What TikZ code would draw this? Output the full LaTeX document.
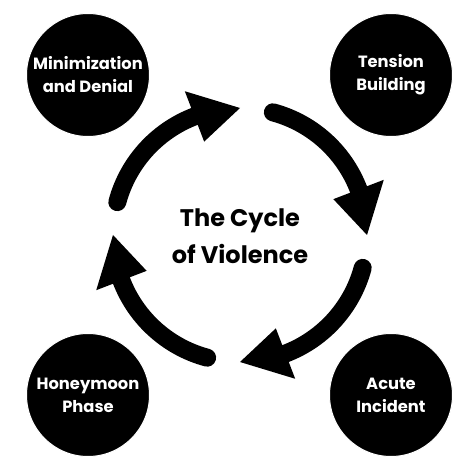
\documentclass[tikz,border=0pt]{standalone}
\usepackage{fontspec}
\setmainfont{Poppins}
\usetikzlibrary{calc}
\begin{document}
\begin{tikzpicture}[x=1pt, y=1pt,
    stage/.style={circle, fill=black, draw=white, line width=1pt, minimum size=123pt, inner sep=0pt,
      text=white, align=center, font=\bfseries\fontsize{16.3}{23}\selectfont},
    shaft/.style={line width=18pt, line cap=round}]
    \useasboundingbox (0,0) rectangle (474,474);
    % stages in the corners
    \node[stage] (denial) at (88,399) {Minimization\\and Denial};
    \node[stage] (tension) at (391,399) {Tension\\Building};
    \node[stage] (acute) at (391,79) {Acute\\Incident};
    \node[stage] (honeymoon) at (88,79) {Honeymoon\\Phase};
    \node[font=\bfseries\fontsize{24}{37}\selectfont, align=center] (title) at (240,238) {The Cycle\\of Violence};
    % curved arrows
    \coordinate (c) at (240,239);
    \foreach \a in {90,0,-90,-180} {
        \draw[shaft] ($(c)+(\a+75:127)$) arc[start angle=\a+75, end angle=\a+19, radius=127];
        \fill ($(c)+(\a:127)$) -- ($(c)+(\a+21:154)$) -- ($(c)+(\a+21:100)$) -- cycle;
    }
\end{tikzpicture}
\end{document}
